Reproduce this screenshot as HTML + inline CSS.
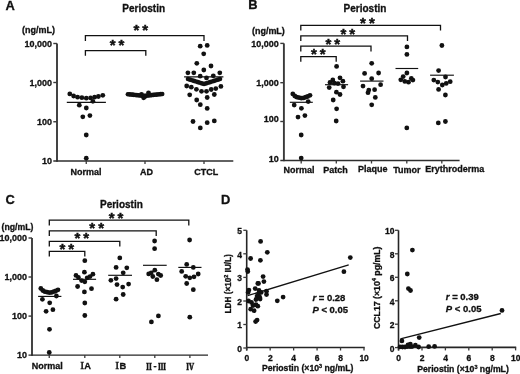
<!DOCTYPE html>
<html><head><meta charset="utf-8"><title>Periostin</title>
<style>
html,body{margin:0;padding:0;background:#fff;}
body{width:520px;height:374px;overflow:hidden;}
svg{display:block;}
svg text{font-family:"Liberation Sans",Arial,sans-serif;font-weight:bold;fill:#111;stroke:#111;stroke-width:0.3px;}
svg .st{font-size:15px;letter-spacing:3px;stroke-width:0.45px;}
svg .rn{font-family:"Noto Serif CJK JP","DejaVu Serif",serif;stroke-width:0.45px;}
svg .lt{font-size:9.3px;}
svg .sup{font-size:5.5px;}
svg polyline{stroke:#111;}
svg circle{fill:#111;}
</style></head>
<body>
<svg width="520" height="374" viewBox="0 0 520 374">
<text transform="translate(5.6,9.9) scale(1,1.05)" font-size="12.9" text-anchor="start" >A</text>
<text transform="translate(122.3,11.5) scale(1,1.05)" font-size="10" text-anchor="start" >Periostin</text>
<text transform="translate(22,32.8) scale(1,1.05)" font-size="9" text-anchor="start" >(ng/mL)</text>
<line x1="57" y1="43.5" x2="57" y2="161.7" stroke-width="1.9" stroke="#3a3a3a"/>
<line x1="53.3" y1="161" x2="233.3" y2="161" stroke-width="1.5" stroke="#2e2e2e"/>
<line x1="53.3" y1="43.5" x2="57" y2="43.5" stroke-width="1.4" stroke="#3a3a3a"/>
<line x1="53.3" y1="82.5" x2="57" y2="82.5" stroke-width="1.4" stroke="#3a3a3a"/>
<line x1="53.3" y1="121.75" x2="57" y2="121.75" stroke-width="1.4" stroke="#3a3a3a"/>
<line x1="86.25" y1="161" x2="86.25" y2="164" stroke-width="1.3" stroke="#3a3a3a"/>
<line x1="145" y1="161" x2="145" y2="164" stroke-width="1.3" stroke="#3a3a3a"/>
<line x1="204" y1="161" x2="204" y2="164" stroke-width="1.3" stroke="#3a3a3a"/>
<text transform="translate(52,46.7) scale(1,1.05)" font-size="9" text-anchor="end" >10,000</text>
<text transform="translate(52,85.7) scale(1,1.05)" font-size="9" text-anchor="end" >1,000</text>
<text transform="translate(52,124.95) scale(1,1.05)" font-size="9" text-anchor="end" >100</text>
<text transform="translate(52,164.2) scale(1,1.05)" font-size="9" text-anchor="end" >10</text>
<text transform="translate(86,174.5) scale(1,1.05)" font-size="9" text-anchor="middle" >Normal</text>
<text transform="translate(146.5,174.5) scale(1,1.05)" font-size="9" text-anchor="middle" >AD</text>
<text transform="translate(206.2,174.5) scale(1,1.05)" font-size="9" text-anchor="middle" >CTCL</text>
<polyline points="85.4,40.900000000000006 85.4,35.7 204,35.7 204,40.900000000000006" fill="none" stroke-width="1.3"/>
<polyline points="85.4,55.800000000000004 85.4,50.6 145.8,50.6 145.8,55.800000000000004" fill="none" stroke-width="1.3"/>
<text class="st" x="133.5" y="34.6">**</text>
<text class="st" x="109.7" y="50.3">**</text>
<circle cx="69.8" cy="93.9" r="2.4"/>
<circle cx="73.6" cy="96" r="2.4"/>
<circle cx="77.6" cy="97.2" r="2.4"/>
<circle cx="81.9" cy="97.7" r="2.4"/>
<circle cx="86.3" cy="98.2" r="2.4"/>
<circle cx="90.6" cy="97.9" r="2.4"/>
<circle cx="94.6" cy="97.2" r="2.4"/>
<circle cx="98.4" cy="96.5" r="2.4"/>
<circle cx="102.8" cy="95.3" r="2.4"/>
<circle cx="92.9" cy="101.3" r="2.4"/>
<circle cx="79.3" cy="105.2" r="2.4"/>
<circle cx="86.3" cy="108" r="2.4"/>
<circle cx="82.8" cy="116.8" r="2.4"/>
<circle cx="89.9" cy="115.6" r="2.4"/>
<circle cx="86.25" cy="135" r="2.4"/>
<circle cx="86.25" cy="158.25" r="2.4"/>
<line x1="66.8" y1="102.3" x2="105.9" y2="102.3" stroke-width="1.15" stroke="#111"/>
<circle cx="127.9" cy="94.2" r="2.3"/>
<circle cx="129.39" cy="94.35" r="2.3"/>
<circle cx="130.88" cy="94.51" r="2.3"/>
<circle cx="132.37" cy="94.67" r="2.3"/>
<circle cx="133.87" cy="94.83" r="2.3"/>
<circle cx="135.36" cy="94.98" r="2.3"/>
<circle cx="136.85" cy="95.14" r="2.3"/>
<circle cx="138.34" cy="95.3" r="2.3"/>
<circle cx="139.83" cy="95.46" r="2.3"/>
<circle cx="141.32" cy="95.62" r="2.3"/>
<circle cx="142.81" cy="95.77" r="2.3"/>
<circle cx="144.3" cy="95.87" r="2.3"/>
<circle cx="145.8" cy="95.71" r="2.3"/>
<circle cx="147.29" cy="95.55" r="2.3"/>
<circle cx="148.78" cy="95.39" r="2.3"/>
<circle cx="150.27" cy="95.24" r="2.3"/>
<circle cx="151.76" cy="95.08" r="2.3"/>
<circle cx="153.25" cy="94.92" r="2.3"/>
<circle cx="154.74" cy="94.76" r="2.3"/>
<circle cx="156.23" cy="94.6" r="2.3"/>
<circle cx="157.73" cy="94.45" r="2.3"/>
<circle cx="159.22" cy="94.29" r="2.3"/>
<circle cx="160.71" cy="94.13" r="2.3"/>
<circle cx="162.2" cy="93.97" r="2.3"/>
<circle cx="141.5" cy="94.4" r="2.4"/>
<circle cx="148.5" cy="92.8" r="2.4"/>
<circle cx="143.6" cy="97.8" r="2.4"/>
<circle cx="145" cy="96.6" r="2.4"/>
<circle cx="200.2" cy="46.2" r="2.4"/>
<circle cx="207.2" cy="45.4" r="2.4"/>
<circle cx="203.7" cy="53.8" r="2.4"/>
<circle cx="196.8" cy="63.3" r="2.4"/>
<circle cx="211" cy="66" r="2.4"/>
<circle cx="203.8" cy="70" r="2.4"/>
<circle cx="187.9" cy="72.8" r="2.4"/>
<circle cx="193.8" cy="72.8" r="2.4"/>
<circle cx="219.8" cy="72.8" r="2.4"/>
<circle cx="200.2" cy="76.2" r="2.4"/>
<circle cx="206.5" cy="77.9" r="2.4"/>
<circle cx="213.3" cy="75.8" r="2.4"/>
<circle cx="186.7" cy="86" r="2.4"/>
<circle cx="191.3" cy="87.2" r="2.4"/>
<circle cx="196.4" cy="89.3" r="2.4"/>
<circle cx="201.5" cy="91.3" r="2.4"/>
<circle cx="206.5" cy="91.3" r="2.4"/>
<circle cx="211.2" cy="89.5" r="2.4"/>
<circle cx="215.8" cy="88.6" r="2.4"/>
<circle cx="220.9" cy="86.4" r="2.4"/>
<circle cx="189.7" cy="94.8" r="2.4"/>
<circle cx="214.3" cy="94.5" r="2.4"/>
<circle cx="207.2" cy="97.5" r="2.4"/>
<circle cx="196.7" cy="100" r="2.4"/>
<circle cx="200.3" cy="104.7" r="2.4"/>
<circle cx="207.2" cy="108.4" r="2.4"/>
<circle cx="193" cy="121.5" r="2.4"/>
<circle cx="207.2" cy="122.7" r="2.4"/>
<circle cx="214.3" cy="120.9" r="2.4"/>
<circle cx="200.3" cy="127.9" r="2.4"/>
<circle cx="188" cy="79.0" r="2.3"/>
<circle cx="190" cy="79.625" r="2.3"/>
<circle cx="192" cy="80.25" r="2.3"/>
<circle cx="194" cy="80.875" r="2.3"/>
<circle cx="196" cy="81.5" r="2.3"/>
<circle cx="198" cy="82.125" r="2.3"/>
<circle cx="200" cy="82.75" r="2.3"/>
<circle cx="202" cy="83.375" r="2.3"/>
<circle cx="204" cy="84.0" r="2.3"/>
<circle cx="206" cy="83.375" r="2.3"/>
<circle cx="208" cy="82.75" r="2.3"/>
<circle cx="210" cy="82.125" r="2.3"/>
<circle cx="212" cy="81.5" r="2.3"/>
<circle cx="214" cy="80.875" r="2.3"/>
<circle cx="216" cy="80.25" r="2.3"/>
<circle cx="218" cy="79.625" r="2.3"/>
<circle cx="220" cy="79.0" r="2.3"/>
<line x1="184.1" y1="76.8" x2="223.4" y2="76.8" stroke-width="1.15" stroke="#111"/>
<text transform="translate(248.2,9.3) scale(1,1.05)" font-size="12.9" text-anchor="start" >B</text>
<text transform="translate(343.6,11.5) scale(1,1.05)" font-size="10" text-anchor="start" >Periostin</text>
<text transform="translate(251.9,34.3) scale(1,1.05)" font-size="9" text-anchor="start" >(ng/mL)</text>
<line x1="283.9" y1="43.4" x2="283.9" y2="161.2" stroke-width="1.9" stroke="#3a3a3a"/>
<line x1="280.3" y1="160.5" x2="459.6" y2="160.5" stroke-width="1.5" stroke="#2e2e2e"/>
<line x1="280.3" y1="43.4" x2="283.9" y2="43.4" stroke-width="1.4" stroke="#3a3a3a"/>
<line x1="280.3" y1="82.7" x2="283.9" y2="82.7" stroke-width="1.4" stroke="#3a3a3a"/>
<line x1="280.3" y1="121.5" x2="283.9" y2="121.5" stroke-width="1.4" stroke="#3a3a3a"/>
<line x1="301.2" y1="160.5" x2="301.2" y2="163.5" stroke-width="1.3" stroke="#3a3a3a"/>
<line x1="336.3" y1="160.5" x2="336.3" y2="163.5" stroke-width="1.3" stroke="#3a3a3a"/>
<line x1="371.5" y1="160.5" x2="371.5" y2="163.5" stroke-width="1.3" stroke="#3a3a3a"/>
<line x1="406.8" y1="160.5" x2="406.8" y2="163.5" stroke-width="1.3" stroke="#3a3a3a"/>
<line x1="441.8" y1="160.5" x2="441.8" y2="163.5" stroke-width="1.3" stroke="#3a3a3a"/>
<text transform="translate(278.7,46.6) scale(1,1.05)" font-size="9" text-anchor="end" >10,000</text>
<text transform="translate(278.7,85.9) scale(1,1.05)" font-size="9" text-anchor="end" >1,000</text>
<text transform="translate(278.7,122.4) scale(1,1.05)" font-size="9" text-anchor="end" >100</text>
<text transform="translate(278.7,161.79999999999998) scale(1,1.05)" font-size="9" text-anchor="end" >10</text>
<text transform="translate(299,173.3) scale(1,1.05)" font-size="9" text-anchor="middle" >Normal</text>
<text transform="translate(335.5,173.1) scale(1,1.05)" font-size="9" text-anchor="middle" >Patch</text>
<text transform="translate(372.8,172.2) scale(1,1.05)" font-size="9" text-anchor="middle" >Plaque</text>
<text transform="translate(406.9,172.7) scale(1,1.05)" font-size="9" text-anchor="middle" >Tumor</text>
<text transform="translate(425.3,172.3) scale(1,1.05)" font-size="9" text-anchor="start" >Erythroderma</text>
<polyline points="300.8,30.5 300.8,25.3 440.5,25.3 440.5,30.5" fill="none" stroke-width="1.3"/>
<polyline points="300.8,41.1 300.8,35.9 407.5,35.9 407.5,41.1" fill="none" stroke-width="1.3"/>
<polyline points="300.8,51.400000000000006 300.8,46.2 371,46.2 371,51.400000000000006" fill="none" stroke-width="1.3"/>
<polyline points="300.8,61.800000000000004 300.8,56.6 336.2,56.6 336.2,61.800000000000004" fill="none" stroke-width="1.3"/>
<text class="st" x="360.09999999999997" y="28.2">**</text>
<text class="st" x="340.5" y="38.5">**</text>
<text class="st" x="325.5" y="48.8">**</text>
<text class="st" x="310.9" y="58.8">**</text>
<circle cx="292.8" cy="93.9" r="2.4"/>
<circle cx="294.78" cy="96" r="2.4"/>
<circle cx="296.86" cy="97.2" r="2.4"/>
<circle cx="299.1" cy="97.7" r="2.4"/>
<circle cx="301.4" cy="98.2" r="2.4"/>
<circle cx="303.64" cy="97.9" r="2.4"/>
<circle cx="305.72" cy="97.2" r="2.4"/>
<circle cx="307.7" cy="96.5" r="2.4"/>
<circle cx="309.99" cy="95.3" r="2.4"/>
<circle cx="308.2" cy="101.6" r="2.4"/>
<circle cx="294.2" cy="105.1" r="2.4"/>
<circle cx="301.4" cy="108.3" r="2.4"/>
<circle cx="298" cy="117.1" r="2.4"/>
<circle cx="304.9" cy="115.6" r="2.4"/>
<circle cx="301.2" cy="135" r="2.4"/>
<circle cx="301.2" cy="158.1" r="2.4"/>
<line x1="289.8" y1="102.3" x2="312.8" y2="102.3" stroke-width="1.15" stroke="#111"/>
<circle cx="336.6" cy="66.4" r="2.4"/>
<circle cx="340" cy="77.8" r="2.4"/>
<circle cx="332.8" cy="80" r="2.4"/>
<circle cx="342.9" cy="81.2" r="2.4"/>
<circle cx="330" cy="82.4" r="2.4"/>
<circle cx="334.4" cy="83.2" r="2.4"/>
<circle cx="338" cy="83.6" r="2.4"/>
<circle cx="329.2" cy="87.6" r="2.4"/>
<circle cx="343.5" cy="86.8" r="2.4"/>
<circle cx="336.4" cy="92.2" r="2.4"/>
<circle cx="340" cy="94.5" r="2.4"/>
<circle cx="333.2" cy="100" r="2.4"/>
<circle cx="336.6" cy="108.8" r="2.4"/>
<circle cx="336.2" cy="121" r="2.4"/>
<line x1="325" y1="84.7" x2="348.1" y2="84.7" stroke-width="1.15" stroke="#111"/>
<circle cx="371.7" cy="63.3" r="2.4"/>
<circle cx="364.6" cy="73.4" r="2.4"/>
<circle cx="378.6" cy="73" r="2.4"/>
<circle cx="371.7" cy="78.7" r="2.4"/>
<circle cx="363" cy="86.1" r="2.4"/>
<circle cx="380.6" cy="84.7" r="2.4"/>
<circle cx="368.8" cy="90.1" r="2.4"/>
<circle cx="374.6" cy="89.7" r="2.4"/>
<circle cx="368" cy="92.7" r="2.4"/>
<circle cx="375.3" cy="97.4" r="2.4"/>
<circle cx="371.7" cy="104.8" r="2.4"/>
<line x1="360.1" y1="81.1" x2="383.5" y2="81.1" stroke-width="1.15" stroke="#111"/>
<circle cx="406.9" cy="46.9" r="2.4"/>
<circle cx="406.9" cy="54.4" r="2.4"/>
<circle cx="406.9" cy="73" r="2.4"/>
<circle cx="403.2" cy="76.6" r="2.4"/>
<circle cx="400.8" cy="79.8" r="2.4"/>
<circle cx="404.8" cy="81.4" r="2.4"/>
<circle cx="408.5" cy="82.2" r="2.4"/>
<circle cx="411.3" cy="78.5" r="2.4"/>
<circle cx="412.9" cy="80.1" r="2.4"/>
<circle cx="406.8" cy="127.9" r="2.4"/>
<line x1="395.5" y1="68.5" x2="418.2" y2="68.5" stroke-width="1.15" stroke="#111"/>
<circle cx="441.9" cy="45.5" r="2.4"/>
<circle cx="438.6" cy="70.6" r="2.4"/>
<circle cx="445.5" cy="77" r="2.4"/>
<circle cx="433.8" cy="80.1" r="2.4"/>
<circle cx="437.8" cy="82.1" r="2.4"/>
<circle cx="442.3" cy="85" r="2.4"/>
<circle cx="446.2" cy="83.4" r="2.4"/>
<circle cx="450.2" cy="81.7" r="2.4"/>
<circle cx="438.6" cy="89.4" r="2.4"/>
<circle cx="445.4" cy="95" r="2.4"/>
<circle cx="438.3" cy="122.9" r="2.4"/>
<circle cx="445.4" cy="121.5" r="2.4"/>
<line x1="430.1" y1="75.2" x2="453.9" y2="75.2" stroke-width="1.15" stroke="#111"/>
<text transform="translate(5.4,203.6) scale(1,1.05)" font-size="12.9" text-anchor="start" >C</text>
<text transform="translate(100,207.5) scale(1,1.05)" font-size="10" text-anchor="start" >Periostin</text>
<text transform="translate(1.6,229.6) scale(1,1.05)" font-size="8.7" text-anchor="start" >(ng/mL)</text>
<line x1="32" y1="238" x2="32" y2="355.7" stroke-width="1.9" stroke="#3a3a3a"/>
<line x1="28.5" y1="355.1" x2="208" y2="355.1" stroke-width="1.4" stroke="#262626"/>
<line x1="28.5" y1="238" x2="32" y2="238" stroke-width="1.4" stroke="#3a3a3a"/>
<line x1="28.5" y1="277" x2="32" y2="277" stroke-width="1.4" stroke="#3a3a3a"/>
<line x1="28.5" y1="316.1" x2="32" y2="316.1" stroke-width="1.4" stroke="#3a3a3a"/>
<line x1="49.25" y1="355" x2="49.25" y2="358" stroke-width="1.3" stroke="#3a3a3a"/>
<line x1="84.8" y1="355" x2="84.8" y2="358" stroke-width="1.3" stroke="#3a3a3a"/>
<line x1="119.8" y1="355" x2="119.8" y2="358" stroke-width="1.3" stroke="#3a3a3a"/>
<line x1="154.8" y1="355" x2="154.8" y2="358" stroke-width="1.3" stroke="#3a3a3a"/>
<line x1="189.9" y1="355" x2="189.9" y2="358" stroke-width="1.3" stroke="#3a3a3a"/>
<text transform="translate(27,241.2) scale(1,1.05)" font-size="9" text-anchor="end" >10,000</text>
<text transform="translate(27,280.2) scale(1,1.05)" font-size="9" text-anchor="end" >1,000</text>
<text transform="translate(27,319.3) scale(1,1.05)" font-size="9" text-anchor="end" >100</text>
<text transform="translate(27,358.2) scale(1,1.05)" font-size="9" text-anchor="end" >10</text>
<text transform="translate(47.2,368.8) scale(1,1.05)" font-size="9" text-anchor="middle" >Normal</text>
<text transform="translate(78.2,369.0) scale(1,1.05)" font-size="8.0" text-anchor="start"><tspan class="rn">Ⅰ</tspan><tspan class="lt" dx="-1.93">A</tspan></text>
<text transform="translate(113.2,369.0) scale(1,1.05)" font-size="8.0" text-anchor="start"><tspan class="rn">Ⅰ</tspan><tspan class="lt" dx="-1.68">B</tspan></text>
<text transform="translate(145.1,370.0) scale(1,1.05)" font-size="8.0" text-anchor="start"><tspan class="rn">Ⅱ</tspan><tspan class="lt" dx="0.30" dy="-1">-</tspan><tspan class="rn" dx="1.50" dy="1">Ⅲ</tspan></text>
<text transform="translate(186.2,370.0) scale(1,1.05)" font-size="8.0" text-anchor="start"><tspan class="rn">Ⅳ</tspan></text>
<polyline points="49.3,225.39999999999998 49.3,220.2 188.8,220.2 188.8,225.39999999999998" fill="none" stroke-width="1.3"/>
<polyline points="49.3,236.1 49.3,230.9 156.2,230.9 156.2,236.1" fill="none" stroke-width="1.3"/>
<polyline points="49.3,246.5 49.3,241.3 119.8,241.3 119.8,246.5" fill="none" stroke-width="1.3"/>
<polyline points="49.3,256.5 49.3,251.3 84.8,251.3 84.8,256.5" fill="none" stroke-width="1.3"/>
<text class="st" x="108.7" y="222.9">**</text>
<text class="st" x="89.3" y="233.2">**</text>
<text class="st" x="74.5" y="243.4">**</text>
<text class="st" x="59.5" y="253.6">**</text>
<circle cx="40.8" cy="288.4" r="2.4"/>
<circle cx="42.78" cy="290.5" r="2.4"/>
<circle cx="44.86" cy="291.7" r="2.4"/>
<circle cx="47.1" cy="292.2" r="2.4"/>
<circle cx="49.4" cy="292.7" r="2.4"/>
<circle cx="51.64" cy="292.4" r="2.4"/>
<circle cx="53.72" cy="291.7" r="2.4"/>
<circle cx="55.7" cy="291.0" r="2.4"/>
<circle cx="57.99" cy="289.8" r="2.4"/>
<circle cx="56.4" cy="296" r="2.4"/>
<circle cx="42.4" cy="299.3" r="2.4"/>
<circle cx="49.7" cy="302.8" r="2.4"/>
<circle cx="46.1" cy="311.3" r="2.4"/>
<circle cx="52.9" cy="309.7" r="2.4"/>
<circle cx="49.5" cy="329.3" r="2.4"/>
<circle cx="49.25" cy="352.5" r="2.4"/>
<line x1="38.1" y1="296.4" x2="61.4" y2="296.4" stroke-width="1.15" stroke="#111"/>
<circle cx="84.8" cy="260.7" r="2.4"/>
<circle cx="84.4" cy="272.2" r="2.4"/>
<circle cx="76" cy="275.4" r="2.4"/>
<circle cx="78.4" cy="277.4" r="2.4"/>
<circle cx="81.6" cy="280.6" r="2.4"/>
<circle cx="84.8" cy="281.8" r="2.4"/>
<circle cx="87.2" cy="277.8" r="2.4"/>
<circle cx="90" cy="276.6" r="2.4"/>
<circle cx="92.9" cy="274.2" r="2.4"/>
<circle cx="77.6" cy="286.5" r="2.4"/>
<circle cx="91.5" cy="288.7" r="2.4"/>
<circle cx="84.4" cy="291.9" r="2.4"/>
<circle cx="84.8" cy="303" r="2.4"/>
<circle cx="84.8" cy="315.5" r="2.4"/>
<line x1="73" y1="279.3" x2="96.1" y2="279.3" stroke-width="1.15" stroke="#111"/>
<circle cx="119.8" cy="257.9" r="2.4"/>
<circle cx="116.1" cy="267.4" r="2.4"/>
<circle cx="126.8" cy="267.8" r="2.4"/>
<circle cx="123.2" cy="272.8" r="2.4"/>
<circle cx="110.9" cy="280.3" r="2.4"/>
<circle cx="116.1" cy="278.6" r="2.4"/>
<circle cx="117" cy="284.6" r="2.4"/>
<circle cx="122.7" cy="287.1" r="2.4"/>
<circle cx="128.6" cy="284.1" r="2.4"/>
<circle cx="123.2" cy="294.5" r="2.4"/>
<circle cx="116.1" cy="299.2" r="2.4"/>
<line x1="108.2" y1="275.3" x2="132" y2="275.3" stroke-width="1.15" stroke="#111"/>
<circle cx="154.6" cy="241" r="2.4"/>
<circle cx="154.6" cy="248.7" r="2.4"/>
<circle cx="154.8" cy="270.2" r="2.4"/>
<circle cx="148.7" cy="273.9" r="2.4"/>
<circle cx="151.2" cy="272.8" r="2.4"/>
<circle cx="152.8" cy="276.5" r="2.4"/>
<circle cx="158.3" cy="274.1" r="2.4"/>
<circle cx="160.7" cy="275.5" r="2.4"/>
<circle cx="156.9" cy="279.7" r="2.4"/>
<circle cx="158.4" cy="315.9" r="2.4"/>
<circle cx="151.4" cy="321.9" r="2.4"/>
<line x1="143" y1="265.3" x2="166.7" y2="265.3" stroke-width="1.15" stroke="#111"/>
<circle cx="189.6" cy="240" r="2.4"/>
<circle cx="186.7" cy="264.4" r="2.4"/>
<circle cx="193.3" cy="267.4" r="2.4"/>
<circle cx="181.7" cy="271.4" r="2.4"/>
<circle cx="185.7" cy="276.3" r="2.4"/>
<circle cx="189.8" cy="277.8" r="2.4"/>
<circle cx="194" cy="276.8" r="2.4"/>
<circle cx="198.2" cy="274" r="2.4"/>
<circle cx="186.7" cy="283.5" r="2.4"/>
<circle cx="193.3" cy="289.7" r="2.4"/>
<circle cx="189.8" cy="317.2" r="2.4"/>
<line x1="178.3" y1="267.4" x2="201.5" y2="267.4" stroke-width="1.15" stroke="#111"/>
<text transform="translate(221.0,203.7) scale(1,1.05)" font-size="12.9" text-anchor="start" >D</text>
<line x1="246.7" y1="230.3" x2="246.7" y2="350.5" stroke-width="1.6" stroke="#252525"/>
<line x1="246" y1="347.5" x2="364.7" y2="347.5" stroke-width="1.6" stroke="#252525"/>
<line x1="243.3" y1="230.3" x2="246.7" y2="230.3" stroke-width="1.3" stroke="#3a3a3a"/>
<text transform="translate(242.0,234.20000000000002) scale(1,1.05)" font-size="8.5" text-anchor="end" >5</text>
<line x1="243.3" y1="253.8" x2="246.7" y2="253.8" stroke-width="1.3" stroke="#3a3a3a"/>
<text transform="translate(242.0,257.7) scale(1,1.05)" font-size="8.5" text-anchor="end" >4</text>
<line x1="243.3" y1="277.4" x2="246.7" y2="277.4" stroke-width="1.3" stroke="#3a3a3a"/>
<text transform="translate(242.0,281.29999999999995) scale(1,1.05)" font-size="8.5" text-anchor="end" >3</text>
<line x1="243.3" y1="301.0" x2="246.7" y2="301.0" stroke-width="1.3" stroke="#3a3a3a"/>
<text transform="translate(242.0,304.9) scale(1,1.05)" font-size="8.5" text-anchor="end" >2</text>
<line x1="243.3" y1="324.5" x2="246.7" y2="324.5" stroke-width="1.3" stroke="#3a3a3a"/>
<text transform="translate(242.0,328.4) scale(1,1.05)" font-size="8.5" text-anchor="end" >1</text>
<line x1="243.3" y1="348.0" x2="246.7" y2="348.0" stroke-width="1.3" stroke="#3a3a3a"/>
<text transform="translate(242.0,351.9) scale(1,1.05)" font-size="8.5" text-anchor="end" >0</text>
<line x1="246.7" y1="347.5" x2="246.7" y2="350.5" stroke-width="1.3" stroke="#3a3a3a"/>
<text transform="translate(246.79999999999998,361.4) scale(1,1.05)" font-size="8.5" text-anchor="middle" >0</text>
<line x1="270.15999999999997" y1="347.5" x2="270.15999999999997" y2="350.5" stroke-width="1.3" stroke="#3a3a3a"/>
<text transform="translate(270.26,361.4) scale(1,1.05)" font-size="8.5" text-anchor="middle" >2</text>
<line x1="293.62" y1="347.5" x2="293.62" y2="350.5" stroke-width="1.3" stroke="#3a3a3a"/>
<text transform="translate(293.72,361.4) scale(1,1.05)" font-size="8.5" text-anchor="middle" >4</text>
<line x1="317.08" y1="347.5" x2="317.08" y2="350.5" stroke-width="1.3" stroke="#3a3a3a"/>
<text transform="translate(317.18,361.4) scale(1,1.05)" font-size="8.5" text-anchor="middle" >6</text>
<line x1="340.53999999999996" y1="347.5" x2="340.53999999999996" y2="350.5" stroke-width="1.3" stroke="#3a3a3a"/>
<text transform="translate(340.64,361.4) scale(1,1.05)" font-size="8.5" text-anchor="middle" >8</text>
<line x1="364.0" y1="347.5" x2="364.0" y2="350.5" stroke-width="1.3" stroke="#3a3a3a"/>
<text transform="translate(364.1,361.4) scale(1,1.05)" font-size="8.5" text-anchor="middle" >10</text>
<text transform="translate(307.7,370.7) scale(1,1.05)" font-size="8.7" text-anchor="middle" >Periostin (×10<tspan class="sup" dy="-3">3</tspan><tspan dy="3"> ng/mL)</tspan></text>
<text transform="translate(231.3,283.8) rotate(-90) scale(1,1.05)" font-size="8.2" text-anchor="middle">LDH (×10<tspan class="sup" dy="-3">2</tspan><tspan dy="3"> IU/L)</tspan></text>
<circle cx="260.6" cy="241.4" r="2.4"/>
<circle cx="267.3" cy="252.3" r="2.4"/>
<circle cx="250.6" cy="258.5" r="2.4"/>
<circle cx="260.4" cy="260.3" r="2.4"/>
<circle cx="247.5" cy="269.6" r="2.4"/>
<circle cx="247.8" cy="271.6" r="2.4"/>
<circle cx="263.1" cy="276.6" r="2.4"/>
<circle cx="263.9" cy="281.6" r="2.4"/>
<circle cx="258.5" cy="283.4" r="2.4"/>
<circle cx="257.8" cy="283.4" r="2.4"/>
<circle cx="255.2" cy="288.6" r="2.4"/>
<circle cx="248.9" cy="290.1" r="2.4"/>
<circle cx="248.1" cy="292.4" r="2.4"/>
<circle cx="259" cy="290.5" r="2.4"/>
<circle cx="261.2" cy="292.4" r="2.4"/>
<circle cx="258.6" cy="293.8" r="2.4"/>
<circle cx="257.1" cy="296.1" r="2.4"/>
<circle cx="259.7" cy="297.2" r="2.4"/>
<circle cx="256" cy="299.5" r="2.4"/>
<circle cx="266.5" cy="291.2" r="2.4"/>
<circle cx="266.5" cy="294.6" r="2.4"/>
<circle cx="248.5" cy="301" r="2.4"/>
<circle cx="251.5" cy="302.5" r="2.4"/>
<circle cx="256" cy="304.7" r="2.4"/>
<circle cx="257.8" cy="306.2" r="2.4"/>
<circle cx="253" cy="305.5" r="2.4"/>
<circle cx="250.7" cy="309.2" r="2.4"/>
<circle cx="254.1" cy="310.7" r="2.4"/>
<circle cx="255.6" cy="321.6" r="2.4"/>
<circle cx="257.1" cy="320.1" r="2.4"/>
<circle cx="260.1" cy="299.1" r="2.4"/>
<circle cx="283.1" cy="297.1" r="2.4"/>
<circle cx="277.3" cy="300.8" r="2.4"/>
<circle cx="343.9" cy="271.7" r="2.4"/>
<circle cx="350.3" cy="257.6" r="2.4"/>
<line x1="247.6" y1="295.7" x2="348.7" y2="264.8" stroke-width="1.3" stroke="#111"/>
<text transform="translate(312.4,301.2) scale(1,1.05)" font-size="9.5" text-anchor="start"><tspan font-style="italic">r</tspan> = 0.28</text>
<text transform="translate(312.4,312.6) scale(1,1.05)" font-size="9.5" text-anchor="start"><tspan font-style="italic">P</tspan> &lt; 0.05</text>
<line x1="398.5" y1="230.3" x2="398.5" y2="350.5" stroke-width="1.6" stroke="#252525"/>
<line x1="398" y1="347.4" x2="516.2" y2="347.4" stroke-width="1.6" stroke="#252525"/>
<line x1="395" y1="230.3" x2="398.5" y2="230.3" stroke-width="1.3" stroke="#3a3a3a"/>
<text transform="translate(394.5,234.20000000000002) scale(1,1.05)" font-size="8.5" text-anchor="end" >10</text>
<line x1="395" y1="253.8" x2="398.5" y2="253.8" stroke-width="1.3" stroke="#3a3a3a"/>
<text transform="translate(394.5,257.7) scale(1,1.05)" font-size="8.5" text-anchor="end" >8</text>
<line x1="395" y1="277.3" x2="398.5" y2="277.3" stroke-width="1.3" stroke="#3a3a3a"/>
<text transform="translate(394.5,281.2) scale(1,1.05)" font-size="8.5" text-anchor="end" >6</text>
<line x1="395" y1="300.8" x2="398.5" y2="300.8" stroke-width="1.3" stroke="#3a3a3a"/>
<text transform="translate(394.5,304.7) scale(1,1.05)" font-size="8.5" text-anchor="end" >4</text>
<line x1="395" y1="324.2" x2="398.5" y2="324.2" stroke-width="1.3" stroke="#3a3a3a"/>
<text transform="translate(394.5,328.09999999999997) scale(1,1.05)" font-size="8.5" text-anchor="end" >2</text>
<line x1="395" y1="347.6" x2="398.5" y2="347.6" stroke-width="1.3" stroke="#3a3a3a"/>
<text transform="translate(394.5,351.5) scale(1,1.05)" font-size="8.5" text-anchor="end" >0</text>
<line x1="398.6" y1="347.4" x2="398.6" y2="350.4" stroke-width="1.3" stroke="#3a3a3a"/>
<text transform="translate(398.70000000000005,361.4) scale(1,1.05)" font-size="8.5" text-anchor="middle" >0</text>
<line x1="422.0" y1="347.4" x2="422.0" y2="350.4" stroke-width="1.3" stroke="#3a3a3a"/>
<text transform="translate(422.1,361.4) scale(1,1.05)" font-size="8.5" text-anchor="middle" >2</text>
<line x1="445.40000000000003" y1="347.4" x2="445.40000000000003" y2="350.4" stroke-width="1.3" stroke="#3a3a3a"/>
<text transform="translate(445.50000000000006,361.4) scale(1,1.05)" font-size="8.5" text-anchor="middle" >4</text>
<line x1="468.8" y1="347.4" x2="468.8" y2="350.4" stroke-width="1.3" stroke="#3a3a3a"/>
<text transform="translate(468.90000000000003,361.4) scale(1,1.05)" font-size="8.5" text-anchor="middle" >6</text>
<line x1="492.20000000000005" y1="347.4" x2="492.20000000000005" y2="350.4" stroke-width="1.3" stroke="#3a3a3a"/>
<text transform="translate(492.30000000000007,361.4) scale(1,1.05)" font-size="8.5" text-anchor="middle" >8</text>
<line x1="515.6" y1="347.4" x2="515.6" y2="350.4" stroke-width="1.3" stroke="#3a3a3a"/>
<text transform="translate(515.7,361.4) scale(1,1.05)" font-size="8.5" text-anchor="middle" >10</text>
<text transform="translate(463.0,371.7) scale(1,1.05)" font-size="8.7" text-anchor="middle" >Periostin (×10<tspan class="sup" dy="-3">3</tspan><tspan dy="3"> ng/mL)</tspan></text>
<text transform="translate(379.6,287.8) rotate(-90) scale(1,1.05)" font-size="8.75" text-anchor="middle">CCL17 (×10<tspan class="sup" dy="-3">4</tspan><tspan dy="3"> pg/mL)</tspan></text>
<circle cx="412.4" cy="250.1" r="2.4"/>
<circle cx="407.3" cy="274" r="2.4"/>
<circle cx="408.4" cy="288.6" r="2.4"/>
<circle cx="410.5" cy="290.5" r="2.4"/>
<circle cx="401.9" cy="340.9" r="2.4"/>
<circle cx="419.2" cy="337.6" r="2.4"/>
<circle cx="400" cy="346.8" r="2.4"/>
<circle cx="402.5" cy="347" r="2.4"/>
<circle cx="405" cy="347" r="2.4"/>
<circle cx="407.5" cy="346.6" r="2.4"/>
<circle cx="410" cy="346.5" r="2.4"/>
<circle cx="408" cy="345" r="2.4"/>
<circle cx="410.3" cy="344.1" r="2.4"/>
<circle cx="412" cy="346.6" r="2.4"/>
<circle cx="415.4" cy="345.2" r="2.4"/>
<circle cx="418.6" cy="347" r="2.4"/>
<circle cx="428.7" cy="346.7" r="2.4"/>
<circle cx="434.6" cy="346.4" r="2.4"/>
<circle cx="502" cy="310.4" r="2.4"/>
<line x1="400.4" y1="338.8" x2="500.8" y2="313.5" stroke-width="1.3" stroke="#111"/>
<text transform="translate(445.8,300.4) scale(1,1.05)" font-size="9.5" text-anchor="start"><tspan font-style="italic">r</tspan> = 0.39</text>
<text transform="translate(445.8,311.9) scale(1,1.05)" font-size="9.5" text-anchor="start"><tspan font-style="italic">P</tspan> &lt; 0.05</text>
</svg>
</body></html>
